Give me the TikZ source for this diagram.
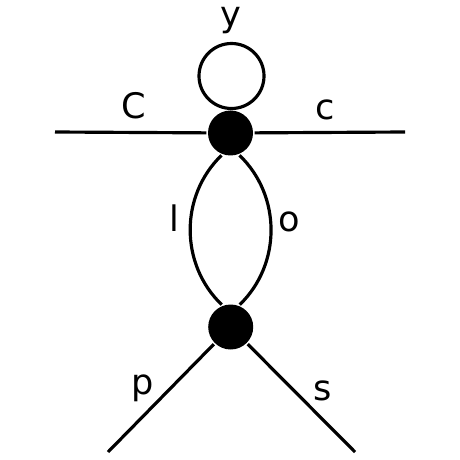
\documentclass[tikz,border=0pt]{standalone}
\usepackage{fontspec}
\setmainfont{DejaVu Sans}
\begin{document}
\begin{tikzpicture}[x=0.03cm,y=-0.03cm,line width=2.7pt,
    vertex/.style={circle,fill=black,minimum size=45*0.03cm,inner sep=0pt},
    lbl/.style={font=\fontsize{30}{32}\selectfont,inner sep=0pt}]
      \useasboundingbox (0,0) rectangle (460,460);
      \node[vertex] (T) at (230.5,133) {};
      \node[vertex] (B) at (230.7,327) {};
      \coordinate (CL) at (55,132);
      \coordinate (CR) at (405,132);
      \coordinate (P) at (108,452);
      \coordinate (S) at (355,452);
      \coordinate (Yc) at (231.5,76);
      \draw (Yc) circle (32.5);
      \node[lbl,anchor=base] (y) at (231,27) {y};
      \draw (CL) -- node[lbl,pos=.52,above=9.8pt] {C} (T);
      \draw (T) -- node[lbl,pos=.47,above=9.4pt] {c} (CR);
      \draw (T.-112) to[bend right=46] node[lbl,anchor=base east,xshift=-7.6pt,yshift=-1pt] {l} (B.112);
      \draw (T.-68) to[bend left=46] node[lbl,anchor=base west,xshift=4.7pt,yshift=-1pt] {o} (B.68);
      \draw (B) -- node[lbl,pos=.47,anchor=base east,xshift=-7.6pt] {p} (P);
      \draw (B) -- node[lbl,pos=.52,anchor=base west,xshift=6.8pt] {s} (S);
  \end{tikzpicture}
\end{document}
